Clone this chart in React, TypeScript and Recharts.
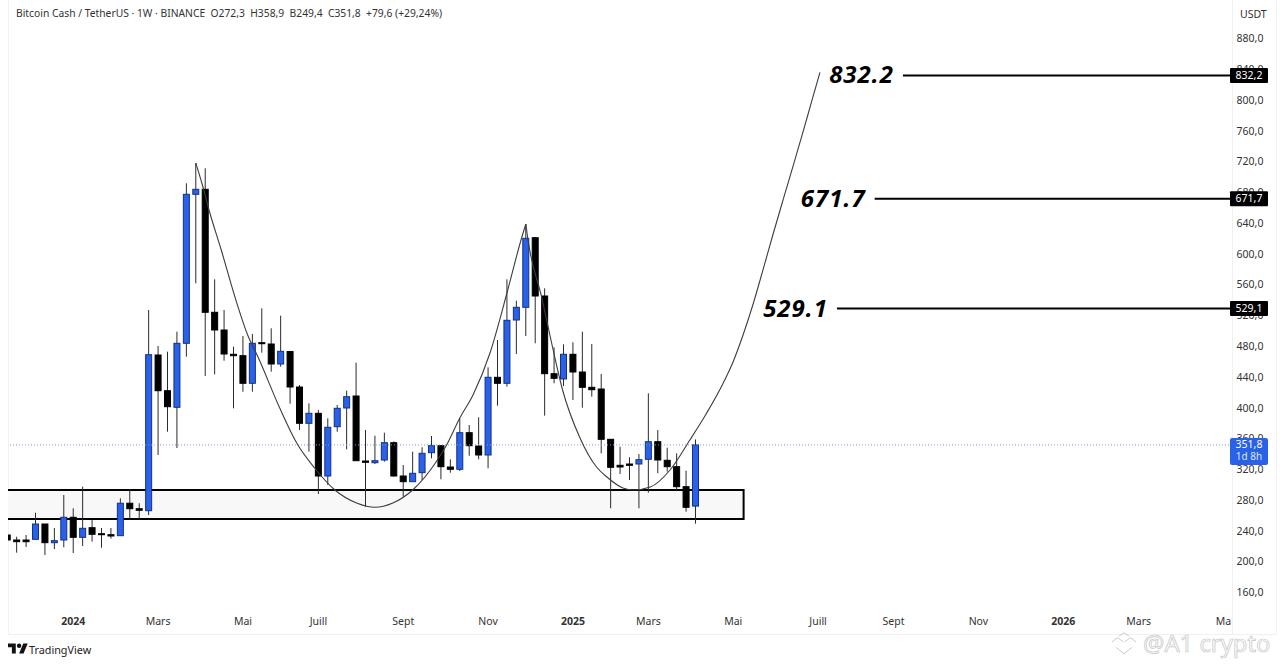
import { ComposedChart, Bar, Line, XAxis, YAxis, ReferenceArea, ReferenceLine, ReferenceDot } from "recharts";

const FONT = "'Noto Sans', sans-serif";
const BLUE = "#2962e6";

// weekly candles, BCH/USDT
const opens = [234.7, 228.2, 228.2, 229.1, 249, 224.7, 228.2, 257.7, 231.7, 244.2, 236.4, 235.1, 233.8, 276, 268.9, 266.3, 468.7, 422.3, 400.7, 483.9, 677.6, 684.1, 524.2, 501.2, 469.6, 467.8, 431.9, 484.7, 483, 457, 473.2, 427.1, 379.9, 392.9, 311.4, 375.5, 399.8, 415.4, 330.9, 328.7, 332.2, 354.7, 311.4, 304, 315.7, 341.7, 350.8, 323.1, 320.1, 367.7, 350.4, 338.7, 439.7, 431.9, 514.2, 530.7, 621.2, 545.4, 444.4, 437.5, 469.6, 446.6, 426.7, 424.5, 359.1, 325.3, 327, 327, 333.1, 356, 331.8, 323.5, 297.5, 272.3];
const highs = [237, 232.5, 234.7, 263.7, 249, 243.8, 286.7, 269.4, 297.5, 254.2, 243.8, 243.8, 282.4, 294.1, 276, 527.2, 480.4, 473, 499, 691.9, 718.3, 711.4, 567.1, 527.2, 479.5, 493.4, 496, 529.4, 503.4, 519.8, 473.9, 429.7, 405.9, 397.2, 386.4, 403.7, 422.3, 458.7, 371.2, 363.8, 367.7, 356.3, 325.7, 343, 348.7, 363.4, 351.7, 333.1, 386.4, 377.7, 387.7, 452.7, 488.2, 567.1, 539.3, 639, 622.1, 555.4, 478.7, 482.6, 485.2, 499, 483, 444, 359.5, 349.5, 335.7, 340, 418.9, 371.2, 348.2, 340.9, 318.3, 358.9];
const lows = [226, 211.7, 219.1, 229, 208.7, 216.5, 218.7, 211.3, 220.4, 226, 218.2, 230, 233.8, 255.1, 255.1, 260.7, 338.7, 369, 347.8, 466.5, 561.9, 441.4, 443.6, 461.3, 399.4, 421, 421, 471.7, 447, 453.5, 405.4, 371.2, 343, 288, 299.7, 369, 346.1, 330.9, 271.5, 327, 330, 310.5, 284.5, 304, 306.2, 334.4, 307.1, 315.7, 317.9, 337.8, 333.1, 321.4, 402.8, 427.5, 470, 493.4, 483.9, 389.8, 431.9, 428.4, 410.2, 400.2, 414.5, 340.9, 269.4, 314, 306.2, 269.4, 289.7, 314.9, 317, 293.2, 265, 249.4];
const closes = [228.2, 226, 226, 249, 224.7, 227.3, 257.7, 231.7, 243.4, 235.6, 235.6, 233.4, 276, 268.9, 266.8, 469.1, 422.3, 401.5, 483.9, 677.6, 684.1, 524.2, 501.2, 470, 467.8, 431.9, 483.9, 483.4, 457, 473.5, 427.1, 379.9, 392.9, 311.4, 374.7, 399.4, 414.5, 331.3, 329.2, 331.3, 354.7, 311.4, 304, 314.9, 340.9, 350.8, 323.5, 320.1, 367.7, 350.8, 338.7, 439.7, 431.9, 513.8, 530.7, 620.4, 545.4, 444.4, 438.4, 469.6, 446.6, 426.7, 423.6, 359.1, 322.7, 323.1, 325.3, 332.6, 356, 332.2, 323.5, 297.5, 270.7, 351.8];

// the two hand drawn arcs over the candles
const arcAWeeks = [20, 20.7, 21.4, 22.7, 24.15, 25.5, 26.6, 28.9, 30.7, 32.6, 34.75, 37.05, 39, 40.9, 43, 45.5, 46.6, 48, 49.4, 51.2, 53, 54.4, 55];
const arcAPrices = [718.3, 689.7, 657.2, 605.2, 544.1, 494.7, 466.1, 399.8, 354.3, 321.8, 293.2, 276.3, 270.7, 276.3, 293.2, 330, 351.7, 386.8, 416.7, 471.3, 549.3, 614.3, 639];
const arcBWeeks = [55, 55.2, 56.7, 57.9, 58.9, 60.7, 62.5, 63.6, 65.3, 66.4, 68.2, 70.3, 72.4, 74.17, 75.93, 76.99, 78.05, 79.11, 80.17, 81.23, 82.3, 83.36, 84.41, 85.31, 86.2];
const arcBPrices = [639, 620.8, 542.8, 475.2, 423.2, 362.1, 323.1, 310.1, 295.8, 293.2, 297.1, 319.2, 358.2, 393, 432, 460, 495, 535, 580, 626, 671, 715, 759, 798, 836];

const targetLevels = [832.2, 671.7, 529.1];
const targetStartWeeks = [95, 92, 88];
const lastPrice = 351.8;
const zoneLow = 255.5;
const zoneHigh = 293.2;
const zoneEndWeek = 78.1;

const priceTicks = [160, 200, 240, 280, 320, 360, 400, 440, 480, 520, 560, 600, 640, 680, 720, 760, 800, 840, 880];
const timeTicks = [7, 16, 25, 33, 42, 51, 60, 68, 77, 86, 94, 103, 112, 120, 129];
const timeLabels = ["2024", "Mars", "Mai", "Juill", "Sept", "Nov", "2025", "Mars", "Mai", "Juill", "Sept", "Nov", "2026", "Mars", "Ma"];

const WEEK_MIN = 0.08;
const WEEK_MAX = 129.9;
const PRICE_MIN = 143.7;
const PRICE_MAX = 930.2;
const BODY_WIDTH = 6;

const candles = opens.map((open, i) => ({
  week: i,
  open,
  close: closes[i],
  high: highs[i],
  low: lows[i],
  range: [lows[i], highs[i]],
}));
const arcA = arcAWeeks.map((week, i) => ({ week, price: arcAPrices[i] }));
const arcB = arcBWeeks.map((week, i) => ({ week, price: arcBPrices[i] }));

const comma = (v: number) => v.toFixed(1).replace(".", ",");

function Candle(props: any) {
  const { x, y, width, height, payload } = props;
  const h = Math.abs(height);
  const pxPerUnit = h / (payload.high - payload.low);
  const top = y + (payload.high - Math.max(payload.open, payload.close)) * pxPerUnit;
  const bottom = y + (payload.high - Math.min(payload.open, payload.close)) * pxPerUnit;
  const up = payload.close >= payload.open;
  const mid = x + width / 2;
  return (
    <g>
      <line x1={mid} x2={mid} y1={y} y2={y + h} stroke="#2b2b2b" strokeWidth={1} />
      <rect
        x={mid - BODY_WIDTH / 2}
        y={top}
        width={BODY_WIDTH}
        height={Math.max(bottom - top, 1)}
        fill={up ? BLUE : "#000"}
        stroke={up ? "#12308c" : "#000"}
        strokeWidth={1}
      />
    </g>
  );
}

function TimeTick(props: any) {
  const { x, y, payload } = props;
  const label = timeLabels[timeTicks.indexOf(payload.value)];
  const isYear = /^\d+$/.test(label);
  return (
    <text x={x} y={y + 10} textAnchor="middle" fontFamily={FONT} fontSize={10.5} fontWeight={isYear ? 700 : 400} fill="#333">
      {label}
    </text>
  );
}

function PriceTag(props: any) {
  const { cx, cy, value } = props;
  return (
    <g>
      <rect x={cx - 2} y={cy - 7.5} width={38} height={15} rx={1} fill="#000" />
      <text x={cx + 17} y={cy + 3.5} textAnchor="middle" fontFamily={FONT} fontSize={10.5} fill="#fff">
        {comma(value)}
      </text>
    </g>
  );
}

function LastPriceTag(props: any) {
  const { cx, cy } = props;
  return (
    <g>
      <rect x={cx - 2} y={cy - 7} width={38} height={27} rx={2} fill={BLUE} />
      <text x={cx + 17} y={cy + 3.5} textAnchor="middle" fontFamily={FONT} fontSize={10.5} fill="#fff">
        {comma(lastPrice)}
      </text>
      <text x={cx + 17} y={cy + 15.5} textAnchor="middle" fontFamily={FONT} fontSize={10} fill="#dfe7ff">
        1d 8h
      </text>
    </g>
  );
}

function TargetLabel(props: any) {
  const { cx, cy, value } = props;
  return (
    <text
      x={cx - 9}
      y={cy + 8}
      textAnchor="end"
      fontFamily={FONT}
      fontSize={24}
      fontWeight={700}
      fontStyle="italic"
      letterSpacing={1}
      fill="#000"
    >
      {value.toFixed(1)}
    </text>
  );
}

export default function App() {
  return (
    <div style={{ position: "absolute", left: 0, top: 0, width: 1280, height: 665, background: "#fff", overflow: "hidden", fontFamily: FONT }}>
      <div style={{ position: "absolute", left: 8, top: 0, width: 1, height: 634, background: "#f2f2f2" }} />
      <div style={{ position: "absolute", left: 1232, top: 0, width: 1, height: 634, background: "#f0f0f0" }} />
      <div style={{ position: "absolute", left: 1276, top: 0, width: 1, height: 634, background: "#f2f2f2" }} />
      <div style={{ position: "absolute", left: 8, top: 634, width: 1268, height: 1, background: "#f0f0f0" }} />

      <ComposedChart
        width={1280}
        height={665}
        data={candles}
        margin={{ top: 0, right: 0, bottom: 31, left: 8 }}
        style={{ position: "absolute", left: 0, top: 0 }}
      >
        <XAxis
          dataKey="week"
          type="number"
          domain={[WEEK_MIN, WEEK_MAX]}
          allowDataOverflow
          ticks={timeTicks}
          interval={0}
          tick={TimeTick}
          height={29}
          axisLine={false}
          tickLine={false}
          tickMargin={4}
        />
        <YAxis
          type="number"
          orientation="right"
          width={48}
          domain={[PRICE_MIN, PRICE_MAX]}
          allowDataOverflow
          ticks={priceTicks}
          interval={0}
          tickFormatter={comma}
          tick={{ fontFamily: FONT, fontSize: 10.5, fill: "#333", textAnchor: "middle", dx: 10 }}
          axisLine={false}
          tickLine={false}
        />

        <ReferenceArea
          x1={-1}
          x2={zoneEndWeek}
          y1={zoneLow}
          y2={zoneHigh}
          fill="#f8f8f8"
          fillOpacity={1}
          stroke="#000"
          strokeWidth={2}
          ifOverflow="hidden"
        />
        <ReferenceLine
          y={lastPrice}
          stroke="#7f9fcf"
          strokeDasharray="1 2"
          strokeWidth={1}
        />

        <Line data={arcA} dataKey="price" type="monotone" stroke="#3d3d3d" strokeWidth={1.1} dot={false} activeDot={false} isAnimationActive={false} />
        <Line data={arcB} dataKey="price" type="monotone" stroke="#3d3d3d" strokeWidth={1.1} dot={false} activeDot={false} isAnimationActive={false} />
        <Bar dataKey="range" barSize={7} shape={Candle} isAnimationActive={false} />

        {targetLevels.map((level, i) => (
          <ReferenceLine
            key={level}
            segment={[
              { x: targetStartWeeks[i], y: level },
              { x: WEEK_MAX, y: level },
            ]}
            stroke="#000"
            strokeWidth={2}
          />
        ))}
        {targetLevels.map((level, i) => (
          <ReferenceDot
            key={level}
            x={targetStartWeeks[i]}
            y={level}
            r={0}
            ifOverflow="visible"
            shape={(p: any) => <TargetLabel {...p} value={level} />}
          />
        ))}
      </ComposedChart>

      {/* second chart on top, so the price tags cover the axis labels */}
      <ComposedChart
        width={1280}
        height={665}
        data={candles}
        margin={{ top: 0, right: 48, bottom: 60, left: 8 }}
        style={{ position: "absolute", left: 0, top: 0 }}
      >
        <XAxis dataKey="week" type="number" domain={[WEEK_MIN, WEEK_MAX]} allowDataOverflow hide />
        <YAxis type="number" domain={[PRICE_MIN, PRICE_MAX]} allowDataOverflow hide />
        {targetLevels.map((level) => (
          <ReferenceDot
            key={level}
            x={WEEK_MAX}
            y={level}
            r={0}
            ifOverflow="visible"
            shape={(p: any) => <PriceTag {...p} value={level} />}
          />
        ))}
        <ReferenceDot x={WEEK_MAX} y={lastPrice} r={0} ifOverflow="visible" shape={LastPriceTag} />
      </ComposedChart>

      <div style={{ position: "absolute", left: 16, top: 6, fontSize: 10.3, color: "#333", whiteSpace: "pre" }}>
        {"Bitcoin Cash / TetherUS · 1W · BINANCE  O272,3  H358,9  B249,4  C351,8  +79,6 (+29,24%)"}
      </div>
      <div style={{ position: "absolute", left: 1240, top: 7, fontSize: 10.5, color: "#333" }}>USDT</div>

      <svg width={20} height={16} viewBox="0 0 36 28" style={{ position: "absolute", left: 8, top: 641 }}>
        <path d="M14 22H7V11H0V4h14v18zM28 22h-8l7.5-18h8L28 22z" fill="#111" />
        <circle cx={20} cy={8} r={4} fill="#111" />
      </svg>
      <div style={{ position: "absolute", left: 29, top: 642, fontSize: 10.8, color: "#222" }}>TradingView</div>

      <svg width={30} height={24} viewBox="0 0 42 34" style={{ position: "absolute", left: 1109, top: 632 }}>
        <path d="M4 14l8-6 8 6M14 6l7-5 7 5M22 14l8-6 8 6M10 22l11 9 11-9" fill="none" stroke="#c9c9c9" strokeWidth={1.4} />
      </svg>
      <div
        style={{
          position: "absolute",
          left: 1143,
          top: 627,
          fontSize: 23.8,
          color: "#fff",
          WebkitTextStroke: "0.7px #c4c4c4",
          whiteSpace: "pre",
        }}
      >
        @A1 crypto
      </div>
    </div>
  );
}
